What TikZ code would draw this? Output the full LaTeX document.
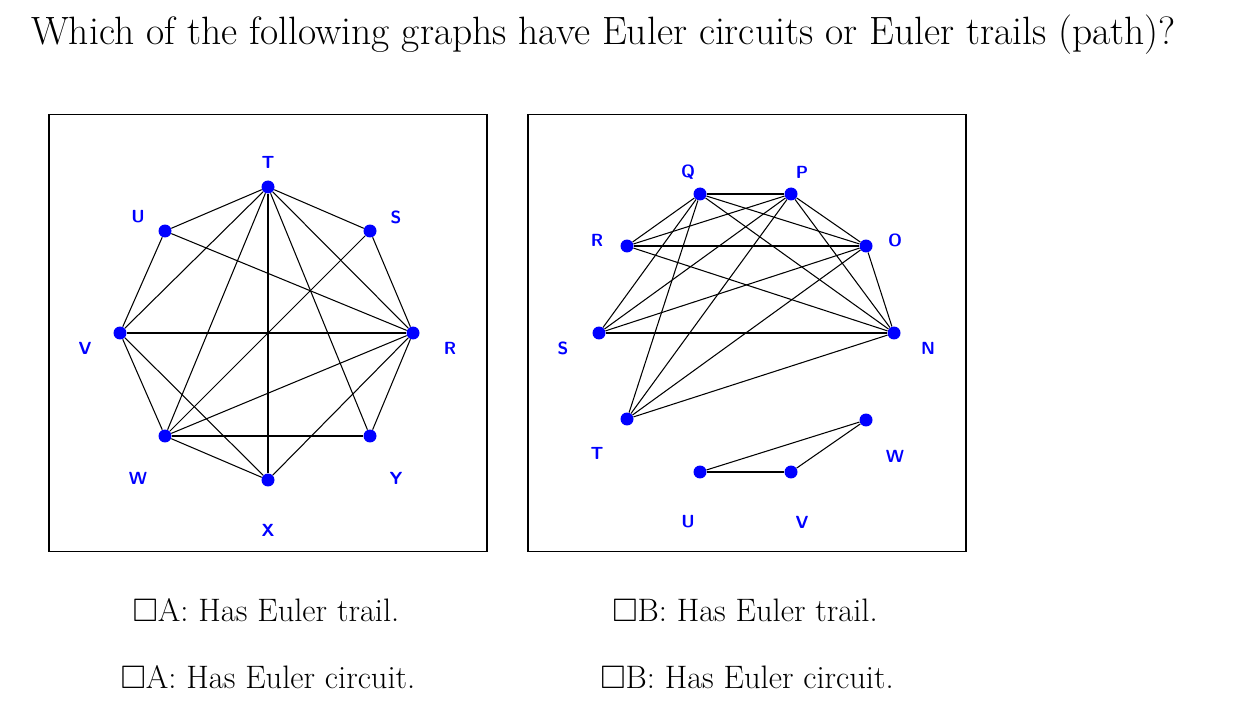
\documentclass[tikz,border=0pt]{standalone}
\usepackage{amssymb}
\usepackage{tikz}
\usetikzlibrary{positioning}
\begin{document}
\begin{tikzpicture}[
		x=0.02cm, y=-0.02cm,
		dot/.style={circle, fill=blue, inner sep=0pt, minimum size=0.26cm},
		lbl/.style={text=blue, font=\sffamily\bfseries\fontsize{10}{10}\selectfont},
		edge/.style={draw, line width=0.6pt},
		frame/.style={draw, line width=0.9pt, minimum width=8.76cm, minimum height=8.74cm},
		choice/.style={font=\fontsize{18.5}{18.5}\selectfont}
	]
	\useasboundingbox (0,0) rectangle (1238,716);
	\node[anchor=west, font=\fontsize{22.5}{22.5}\selectfont] (title) at (25,35) {Which of the following graphs have Euler circuits or Euler trails (path)?};

	\node[frame] (boxA) at (268,333) {};
	\node[frame] (boxB) at (747,333) {};

	% graph A
	\foreach \n/\x/\y/\lx/\ly in {T/268/187/268/162, U/165/231/138/217, S/370/231/396/217, V/120/333/85/348,
		R/413/333/450/348, W/165/436/138/478, Y/370/436/396/478, X/268/480/268/530} {
		\node[dot] (a\n) at (\x,\y) {};
		\node[lbl] (la\n) at (\lx,\ly) {\n};
	}
	\foreach \a/\b in {T/U, T/S, T/V, T/W, T/X, T/Y, T/R, U/R, U/V, S/W, S/R, V/R, V/W, V/X, R/W, R/Y, R/X, W/Y, W/X}
		\draw[edge] (a\a) -- (a\b);

	% graph B
	\foreach \n/\x/\y/\lx/\ly in {Q/700/194/688/172, P/791/194/802/172, R/627/246/597/240, O/866/246/895/240,
		S/599/333/563/348, N/894/333/928/348, T/627/419/597/453, W/866/420/895/456, U/700/472/688/522, V/791/472/802/522} {
		\node[dot] (b\n) at (\x,\y) {};
		\node[lbl] (lb\n) at (\lx,\ly) {\n};
	}
	\foreach \a/\b in {Q/P, Q/R, Q/S, Q/T, Q/O, Q/N, P/R, P/S, P/T, P/O, P/N, R/O, R/N, S/O, S/N, O/T, O/N, N/T, U/V, U/W, V/W}
		\draw[edge] (b\a) -- (b\b);

	% answers
	\node[choice] (trailA) at (266,610) {$\square$A: Has Euler trail.};
	\node[choice] (circA) at (268,677) {$\square$A: Has Euler circuit.};
	\node[choice] (trailB) at (745,610) {$\square$B: Has Euler trail.};
	\node[choice] (circB) at (747,677) {$\square$B: Has Euler circuit.};
\end{tikzpicture}
\end{document}
